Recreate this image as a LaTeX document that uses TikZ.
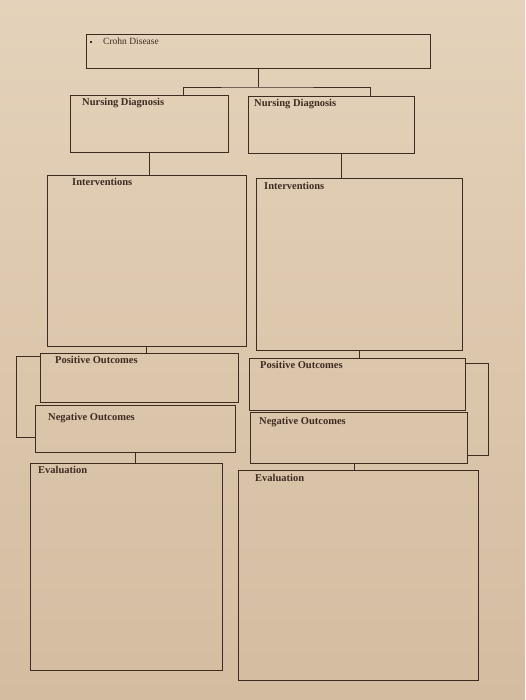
\documentclass[tikz,border=0pt]{standalone}
\usepackage{fontspec}
\setmainfont{Liberation Serif}
\usetikzlibrary{calc}
\definecolor{paper}{RGB}{228,210,186}
\definecolor{paperdark}{RGB}{212,188,160}
\definecolor{ink}{RGB}{62,44,34}
\tikzset{
  box/.style={draw=ink, line width=0.8pt, anchor=north west, inner sep=0pt, outer sep=0pt},
  lbl/.style={anchor=north west, inner sep=0pt, text=ink, font=\bfseries\fontsize{10.5}{12}\selectfont},
  conn/.style={draw=ink, line width=0.6pt},
}
\begin{document}
\begin{tikzpicture}[x=1pt,y=-1pt]
\useasboundingbox (0,0) rectangle (525,700);
\shade[top color=paper, bottom color=paperdark] (0,0) rectangle (525,700);
% boxes
\node[box, minimum width=344, minimum height=34] (cd) at (86,34) {};
\node[box, minimum width=158, minimum height=57] (ndl) at (70,95) {};
\node[box, minimum width=166, minimum height=57] (ndr) at (248,96) {};
\node[box, minimum width=199, minimum height=171] (intl) at (47,175) {};
\node[box, minimum width=206, minimum height=172] (intr) at (256,178) {};
\node[box, minimum width=198, minimum height=49] (posl) at (40,353) {};
\node[box, minimum width=200, minimum height=47] (negl) at (35,405) {};
\node[box, minimum width=216, minimum height=52] (posr) at (249,358) {};
\node[box, minimum width=217, minimum height=51] (negr) at (250,412) {};
\node[box, minimum width=192, minimum height=207] (evl) at (30,463) {};
\node[box, minimum width=240, minimum height=210] (evr) at (238,470) {};
% labels
\node[anchor=north west, inner sep=0pt, text=ink, font=\fontsize{9.5}{11}\selectfont] (tcd) at (103,38) {Crohn Disease};
\node[fill=ink, minimum size=2.5pt, inner sep=0pt] (bul) at (91,42) {};
\node[lbl] (tndl) at ([xshift=12pt,yshift=-3pt]ndl.north west) {Nursing Diagnosis};
\node[lbl] (tndr) at ([xshift=6pt,yshift=-3pt]ndr.north west) {Nursing Diagnosis};
\node[lbl] (tintl) at ([xshift=25pt,yshift=-3pt]intl.north west) {Interventions};
\node[lbl] (tintr) at ([xshift=8pt,yshift=-4pt]intr.north west) {Interventions};
\node[lbl] (tposl) at ([xshift=15pt,yshift=-3pt]posl.north west) {Positive Outcomes};
\node[lbl] (tnegl) at ([xshift=13pt,yshift=-8pt]negl.north west) {Negative Outcomes};
\node[lbl] (tposr) at ([xshift=11pt,yshift=-3pt]posr.north west) {Positive Outcomes};
\node[lbl] (tnegr) at ([xshift=9pt,yshift=-5pt]negr.north west) {Negative Outcomes};
\node[lbl] (tevl) at ([xshift=8pt,yshift=-3pt]evl.north west) {Evaluation};
\node[lbl] (tevr) at ([xshift=17pt,yshift=-4pt]evr.north west) {Evaluation};
% connectors
\coordinate (j) at ($(cd.south)+(0,19)$);
\draw[conn] (cd.south) -- (j);
\draw[conn] ([xshift=34pt]ndl.north) |- (j) -| ([xshift=39pt]ndr.north);
\draw[conn] (ndl.south) -- (ndl.south |- intl.north);
\draw[conn] ([xshift=10pt]ndr.south) -- ([xshift=10pt]ndr.south |- intr.north);
\draw[conn] (intl.south) -- (intl.south |- posl.north);
\draw[conn] (intr.south) -- (intr.south |- posr.north);
\draw[conn] (negl.south) -- (negl.south |- evl.north);
\draw[conn] ([xshift=-4pt]negr.south) -- ([xshift=-4pt]negr.south |- evr.north);
\coordinate (bl) at (16,437);
\draw[conn] ([yshift=-3pt]posl.north west) -| (bl) -- (bl -| negl.west);
\coordinate (br) at (488,455);
\draw[conn] ([yshift=-5pt]posr.north east) -| (br) -- (br -| negr.east);
\end{tikzpicture}
\end{document}
